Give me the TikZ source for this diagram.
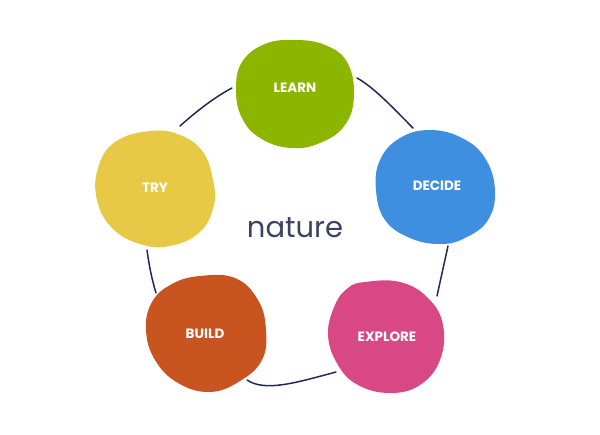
\documentclass[tikz,border=0pt]{standalone}
\usepackage{fontspec}
\newfontfamily\pop{Poppins}
\definecolor{learnc}{HTML}{8CB500}
\definecolor{decidec}{HTML}{3F8FE0}
\definecolor{tryc}{HTML}{E8C945}
\definecolor{buildc}{HTML}{C8541F}
\definecolor{explorec}{HTML}{D84884}
\definecolor{linec}{HTML}{1F2A55}
\definecolor{naturec}{HTML}{3A4366}
\tikzset{
  blob/.style={fill=#1, draw=none},
  lbl/.style={text=white, font=\pop\bfseries\fontsize{13.5}{15}\selectfont},
  conn/.style={draw=linec, line width=1.5pt, line cap=round},
}
\begin{document}
\begin{tikzpicture}[x=1pt,y=-1pt]
\useasboundingbox (0,0) rectangle (600,435);
% blobs
\fill[learnc] plot[smooth cycle, tension=0.7] coordinates {(295,40) (325,45) (347,62) (354,95) (345,125) (320,143) (290,148) (260,138) (242,118) (236,90) (242,62) (265,44)};
\fill[decidec] plot[smooth cycle, tension=0.7] coordinates {(430,130) (462,138) (485,158) (495,190) (488,220) (465,238) (440,244) (410,238) (385,220) (376,190) (380,160) (400,138)};
\fill[tryc] plot[smooth cycle, tension=0.7] coordinates {(150,131) (180,135) (203,152) (213,180) (214,205) (200,232) (170,246) (140,244) (112,228) (97,200) (98,168) (115,142)};
\fill[buildc] plot[smooth cycle, tension=0.7] coordinates {(200,276) (235,278) (258,300) (266,330) (262,360) (240,381) (210,392) (178,383) (155,360) (146,330) (152,302) (172,284)};
\fill[explorec] plot[smooth cycle, tension=0.7] coordinates {(365,282) (400,282) (428,298) (443,325) (440,360) (420,385) (390,393) (358,385) (338,365) (328,335) (335,305) (348,288)};
% labels
\node[lbl] (learn) at (295,88) {LEARN};
\node[lbl] (decide) at (437,186) {DECIDE};
\node[lbl] (try) at (155,188) {TRY};
\node[lbl] (build) at (205,334) {BUILD};
\node[lbl] (explore) at (387,337) {EXPLORE};
\node[text=naturec, font=\pop\fontsize{29}{32}\selectfont] (nature) at (295,228) {nature};
% connector ends
\coordinate (t1) at (180,126); \coordinate (l1) at (232,88);
\coordinate (l2) at (357,78); \coordinate (d2) at (413,128);
\coordinate (d3) at (448,246); \coordinate (e3) at (437,296);
\coordinate (t4) at (147,250); \coordinate (b4) at (156,293);
\coordinate (b5) at (247,380); \coordinate (e5) at (336,372);
\draw[conn] (t1) .. controls (198,110) and (215,97) .. (l1);
\draw[conn] (l2) .. controls (375,88) and (395,110) .. (d2);
\draw[conn] (d3) -- (e3);
\draw[conn] (t4) .. controls (149,265) and (152,280) .. (b4);
\draw[conn] (b5) .. controls (265,392) and (295,383) .. (e5);
\end{tikzpicture}
\end{document}
